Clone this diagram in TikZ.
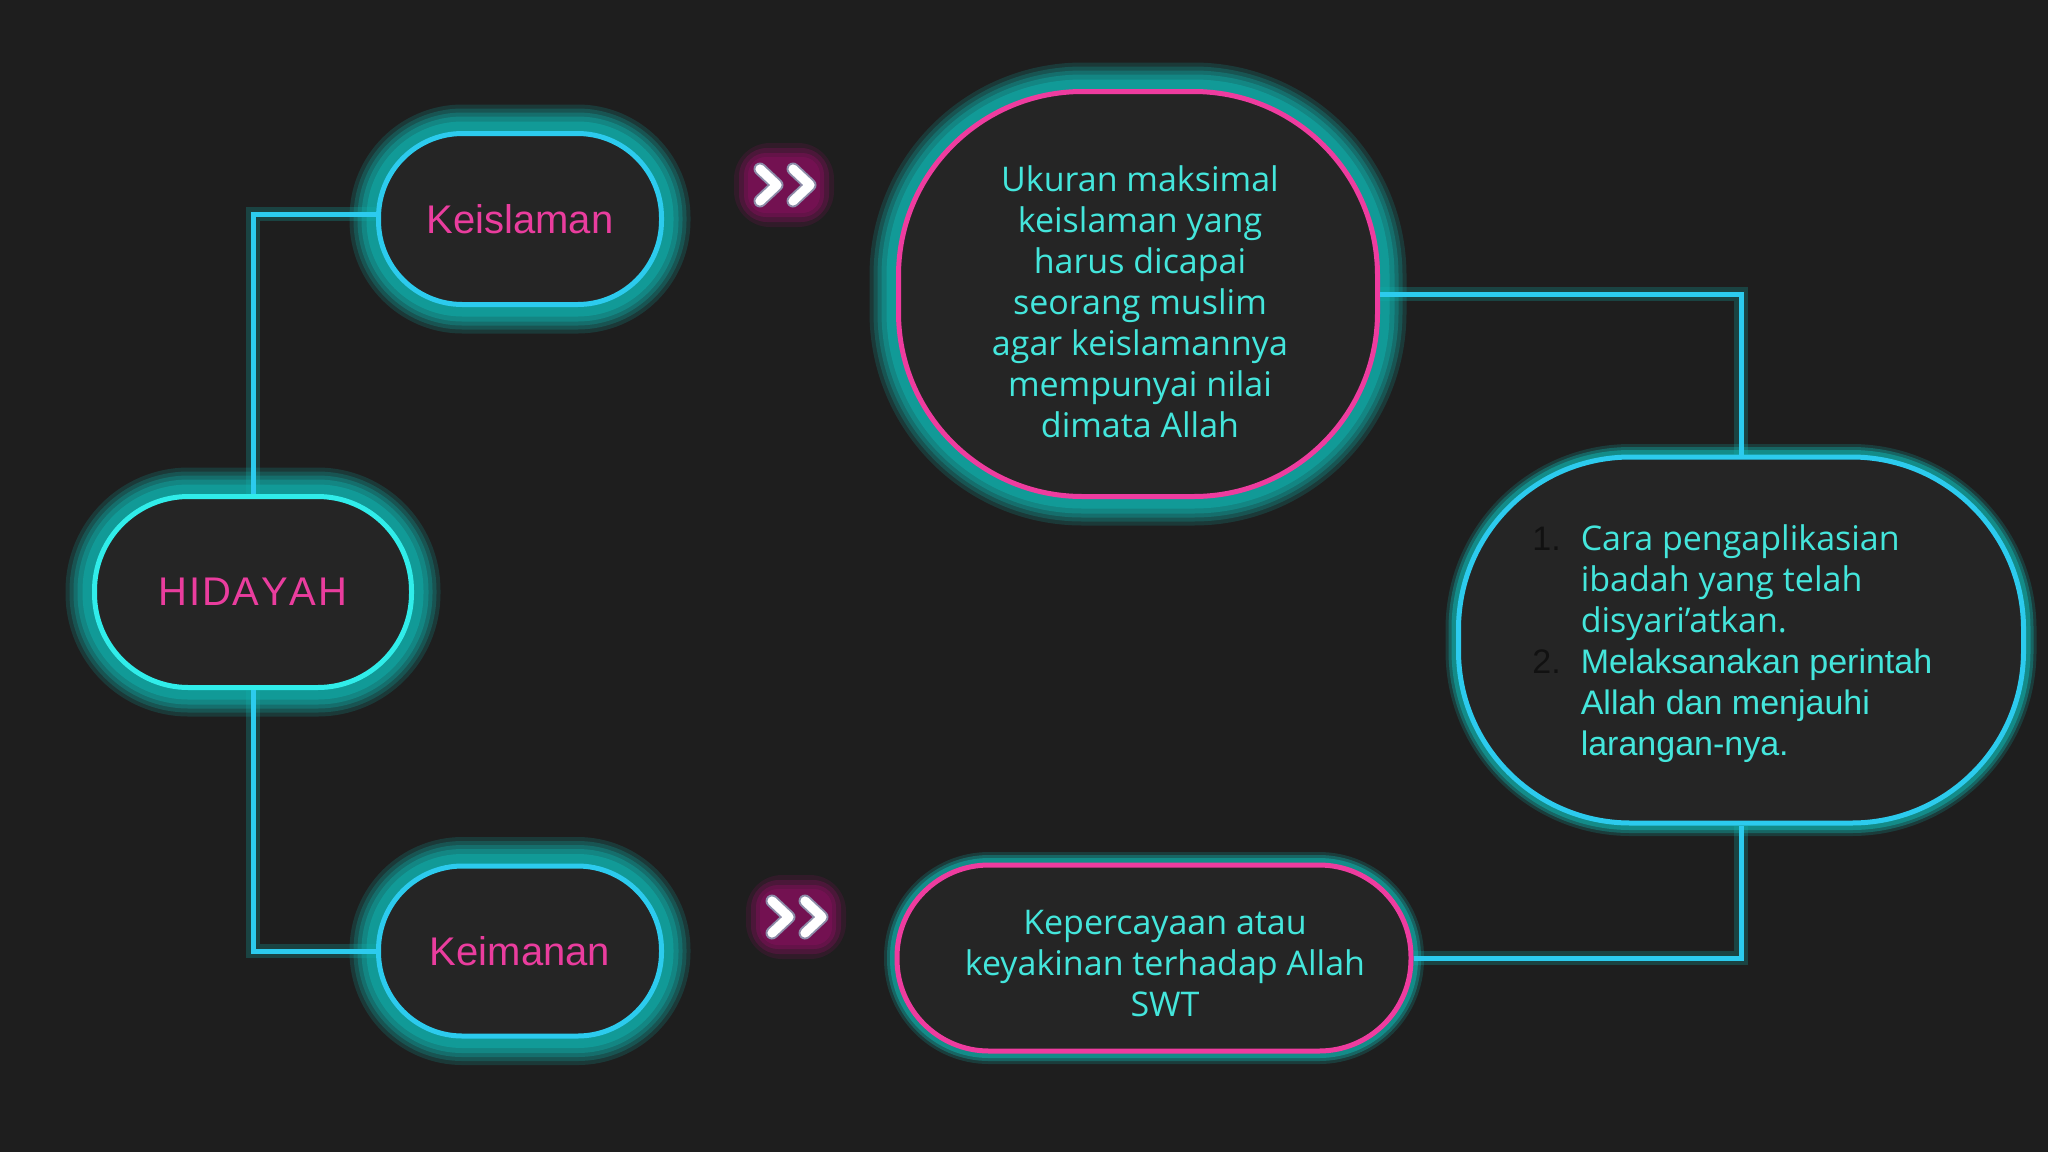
\documentclass[tikz,border=0pt]{standalone}
\usepackage{fontspec}
\setmainfont{Open Sans}
\newfontfamily\arialf{Liberation Sans}
\usetikzlibrary{calc}
\definecolor{bg}{HTML}{1E1E1E}
\definecolor{nodefill}{HTML}{252525}
\definecolor{cyanline}{HTML}{2CCBEE}
\definecolor{hidline}{HTML}{30EDEA}
\definecolor{pinkline}{HTML}{EE3C9F}
\definecolor{pinktext}{HTML}{EA3D9E}
\definecolor{tealtext}{HTML}{44E6DC}
\definecolor{glowc}{HTML}{10B4B0}
\definecolor{magglow}{HTML}{7E1158}
\definecolor{chevedge}{HTML}{8C8CA8}
\definecolor{numc}{HTML}{111111}
\tikzset{
  bigglow/.style={
    preaction={draw=glowc,line width=29pt,opacity=0.18},
    preaction={draw=glowc,line width=25pt,opacity=0.22},
    preaction={draw=glowc,line width=21pt,opacity=0.28},
    preaction={draw=glowc,line width=17pt,opacity=0.35},
    preaction={draw=glowc,line width=12pt,opacity=0.45}},
  smallglow/.style={
    preaction={draw=glowc,line width=13pt,opacity=0.2},
    preaction={draw=glowc,line width=10pt,opacity=0.35},
    preaction={draw=glowc,line width=7pt,opacity=0.5}},
  pill/.style={rectangle, fill=nodefill, line width=2.5pt, inner sep=0pt},
  lbl/.style={font=\arialf\fontsize{20}{24}\selectfont, text=pinktext},
  body/.style={font=\fontsize{17}{20.5}\selectfont, text=tealtext, align=center, inner sep=0pt},
  link/.style={draw=cyanline, line width=2.5pt,
    preaction={draw=glowc, line width=7pt, opacity=0.25}},
  chevout/.style={draw=chevedge, line width=6.5pt, line cap=round, line join=round},
  chevin/.style={draw=white, line width=4.6pt, line cap=round, line join=round},
  magg/.style={fill=magglow},
}
\begin{document}
\begin{tikzpicture}[x=0.5pt,y=-0.5pt]
\useasboundingbox (0,0) rectangle (2048,1152);
\fill[bg] (0,0) rectangle (2048,1152);

% left column
\node[pill, bigglow, draw=cyanline, minimum width=141.5pt, minimum height=85.5pt,
      rounded corners=42pt, lbl] (kis) at (520,219) {Keislaman};
\node[pill, bigglow, draw=hidline, minimum width=158.5pt, minimum height=95.5pt,
      rounded corners=47pt, lbl] (hid) at (253,592)
  {H\kern0.9pt I\kern0.9pt D\kern0.9pt A\kern0.9pt Y\kern0.9pt A\kern0.9pt H};
\node[pill, bigglow, draw=cyanline, minimum width=141.5pt, minimum height=85pt,
      rounded corners=42pt, lbl] (kim) at (520,951) {Keimanan};

% right column
\node[pill, bigglow, draw=pinkline, minimum width=239.5pt, minimum height=202.5pt,
      rounded corners=92pt] (uk) at (1138,294) {};
\node[body] (ukt) at (1140,302)
  {Ukuran maksimal\\keislaman yang\\harus dicapai\\seorang muslim\\agar keislamannya\\mempunyai nilai\\dimata Allah};
\node[pill, smallglow, draw=cyanline, minimum width=282.5pt, minimum height=183pt,
      rounded corners=86pt] (rt) at (1741,640) {};
\node[pill, smallglow, draw=pinkline, minimum width=257pt, minimum height=93pt,
      rounded corners=46pt] (kep) at (1154,958) {};
\node[body] (kept) at (1165,964)
  {Kepercayaan atau\\keyakinan terhadap Allah\\SWT};

\node[anchor=base west, inner sep=0pt, text=tealtext] (lst) at (1532,550)
  {\fontsize{17}{20.5}\selectfont
   \begin{tabular}[t]{@{}l@{\hspace{10pt}}l@{}}
   {\color{numc}\arialf 1.} & Cara pengaplikasian\\
   & ibadah yang telah\\
   & disyari’atkan.\\
   {\color{numc}\arialf 2.} & {\arialf Melaksanakan perintah}\\
   & {\arialf Allah dan menjauhi}\\
   & {\arialf larangan-nya.}
   \end{tabular}};

% connectors
\coordinate (kisin) at ([yshift=2.5pt]kis.west);
\draw[link] (hid.north) |- (kisin);
\draw[link] (hid.south) |- (kim.west);
\draw[link] (uk.east) -| (rt.north);
\draw[link] (rt.south) |- (kep.east);

% chevron icons
\foreach \cx/\cy in {784/185, 796/917} {
  \begin{scope}[shift={(\cx,\cy)}]
    \fill[magg, opacity=0.2, rounded corners=18pt] (-50,-42) rectangle (50,42);
    \fill[magg, opacity=0.35, rounded corners=14pt] (-45,-37) rectangle (45,37);
    \fill[magg, opacity=0.5, rounded corners=11pt] (-40,-32) rectangle (40,32);
    \fill[magg, opacity=0.6, rounded corners=9pt] (-36,-28) rectangle (36,28);
    \draw[chevout] (-24,-16) -- (-7,0) -- (-24,16);
    \draw[chevout] (9,-16) -- (26,0) -- (9,16);
    \draw[chevin] (-24,-16) -- (-7,0) -- (-24,16);
    \draw[chevin] (9,-16) -- (26,0) -- (9,16);
  \end{scope}
}
\end{tikzpicture}
\end{document}
